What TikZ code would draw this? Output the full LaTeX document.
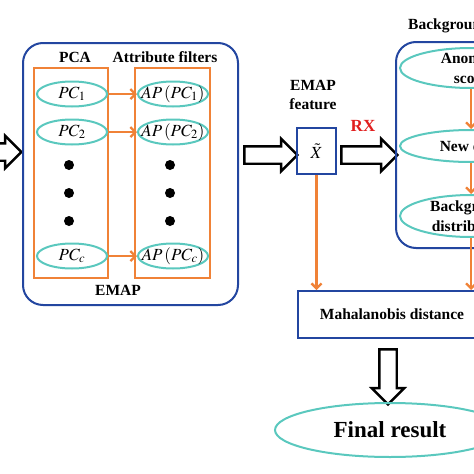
\documentclass[tikz,border=0pt]{standalone}
\usepackage{mathptmx}
\usepackage{fontspec}
\setmainfont{Liberation Serif}
\usetikzlibrary{arrows.meta,shapes.arrows,shapes.geometric}
\definecolor{emapblue}{RGB}{35,70,160}
\definecolor{emaporange}{RGB}{240,130,55}
\definecolor{emapteal}{RGB}{90,200,190}
\definecolor{rxred}{RGB}{225,30,30}
\tikzset{
  lbl/.style={font=\fontsize{15.5}{19.5}\selectfont\bfseries,align=center,inner sep=0},
  bluebox/.style={draw=emapblue,line width=2pt,rounded corners=20pt},
  orangebox/.style={draw=emaporange,line width=2pt},
  rectbox/.style={draw=emapblue,line width=2pt,lbl},
  oval/.style={ellipse,draw=emapteal,line width=2pt,inner sep=0},
  pcnode/.style={oval,minimum width=70,minimum height=25},
  bgnode/.style={oval,minimum width=142},
  flow/.style={draw=emaporange,line width=2.3pt,-{Straight Barb[length=5pt,width=10pt]}},
  hollow/.style={single arrow,draw=black,fill=white,line width=2.4pt,inner xsep=0,
    inner ysep=7.5pt,single arrow head extend=7.5pt},
  hollowdown/.style={hollow,inner xsep=7.5pt,inner ysep=0,shape border rotate=270}
}
\begin{document}
\begin{tikzpicture}[x=1pt,y=-1pt]
    \useasboundingbox (0,0) rectangle (474,474);
    \clip (0,0) rectangle (474,474);
    \node[hollow,minimum height=50] (inarrow) at (-8,152) {};
    \node[bluebox,minimum width=215,minimum height=262] (emap) at (130.5,174) {};
    \node[orangebox,minimum width=74,minimum height=210] (pcabox) at (71,173) {};
    \node[orangebox,minimum width=75,minimum height=210] (apbox) at (172.5,173) {};
    \node[lbl] (pcalbl) at (75,57) {PCA};
    \node[lbl] (aflbl) at (165,57) {Attribute filters};
    \node[lbl] (emaplbl) at (118,290) {EMAP};
    \foreach \i/\y in {1/94,2/132,c/256} {
        \node[pcnode,label={[font=\fontsize{17}{17}\selectfont]center:$PC_{\i}$}] (pc\i) at (72,\y) {};
        \node[pcnode,label={[font=\fontsize{17}{17}\selectfont]center:$AP\left(PC_{\i}\right)$}] (ap\i) at (173,\y) {};
        \draw[flow] (pc\i) -- (ap\i);
    }
    \foreach \y in {165,193,221} {
        \fill (69,\y) circle (5);
        \fill (170,\y) circle (5);
    }

    \node[hollow,minimum height=53] (toX) at (266.5,155) {};
    \node[draw=emapblue,line width=2pt,minimum width=39,minimum height=46,inner sep=0,
        font=\fontsize{17}{17}\selectfont] (xt) at (316.5,151) {$\tilde{X}$};
    \node[lbl] (featlbl) at (313,95) {EMAP\\feature};
    \node[lbl,text=rxred,font=\fontsize{17}{17}\selectfont\bfseries] (rx) at (363,126) {RX};
    \node[hollow,minimum height=56] (toRX) at (365,155) {};

    \node[bluebox,minimum width=180,minimum height=206] (bgbox) at (486,145) {};
    \node[lbl,anchor=west] (bgtitle) at (408,26) {Background};
    \node[bgnode,minimum height=40,label={[lbl]center:Anomaly\\score}] (score) at (471,68) {};
    \node[bgnode,minimum height=32,label={[lbl]center:New data}] (newdata) at (471,146) {};
    \node[bgnode,minimum height=42,label={[lbl]center:Background\\distribution}] (bgdist) at (471,216) {};
    \draw[flow] (score) -- (newdata);
    \draw[flow] (newdata) -- (bgdist);

    \node[rectbox,minimum width=188,minimum height=47] (maha) at (392,314.5) {Mahalanobis distance};
    \draw[flow] (xt.south) -- (xt.south |- maha.north);
    \draw[flow] (bgdist.south) -- (bgdist.south |- maha.north);
    \node[hollowdown,minimum height=55] (tofinal) at (388,372.5) {};
    \node[oval,minimum width=230,minimum height=54,
        label={[font=\fontsize{23}{23}\selectfont\bfseries]center:Final result}] (final) at (390,430) {};
\end{tikzpicture}
\end{document}
